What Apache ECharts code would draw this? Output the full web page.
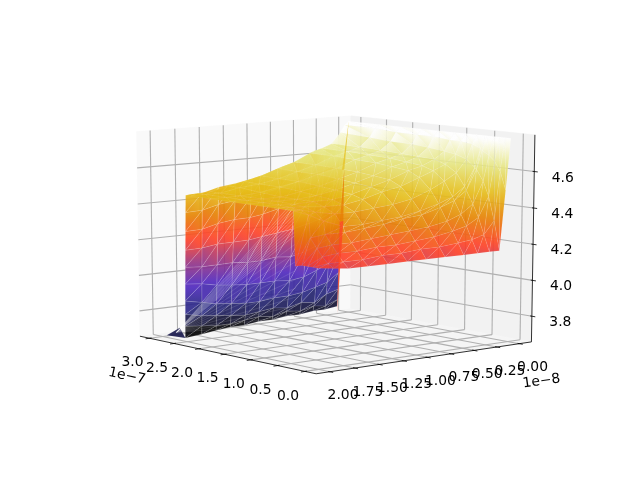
<!DOCTYPE html>
<html><head><meta charset="utf-8">
<script src="https://cdn.jsdelivr.net/npm/echarts@6/dist/echarts.min.js"></script>
<style>html,body{margin:0;background:#fff}#c{width:640px;height:480px}</style></head>
<body><div id="c"></div>
<script>
// ---- axis values
const xTicks=[0,0.5,1,1.5,2,2.5,3];
const xTickLabels=['0.0','0.5','1.0','1.5','2.0','2.5','3.0'];
const yTicks=[0,0.25,0.5,0.75,1,1.25,1.5,1.75,2];
const yTickLabels=['0.00','0.25','0.50','0.75','1.00','1.25','1.50','1.75','2.00'];
const zTicks=[3.8,4,4.2,4.4,4.6];
const zTickLabels=['3.8','4.0','4.2','4.4','4.6'];
const xOffsetText='1e\u22127', yOffsetText='1e\u22128';
const xLim=[-0.2,3.2], yLim=[-0.136,2.136], zLim=[3.656,4.8];
// ---- upper sheet: z over x (1e-7) and y (1e-8); last column is the ridge
const sheetX=[0,0.1,0.2,0.3,0.42,0.45,0.6,0.8,1,1.3,1.6,2,2.4];
const sheetY=[2,1.85,1.7,1.5,1.3,1.1,0.9,0.7,0.5,0.35,0.22,0.11,0.05,0];
const sheetRidgeX=[2.5,2.56,2.59,2.64,2.69,2.74,2.78,2.83,2.88,2.92,2.95,2.97,2.99,3];
const sheetZ=[
[4.19,4.19,4.19,4.19,4.18,4.47,4.47,4.47,4.47,4.47,4.47,4.47,4.47,4.47],
[4.18,4.20,4.23,4.27,4.32,4.44,4.46,4.465,4.47,4.47,4.47,4.47,4.47,4.47],
[4.17,4.20,4.24,4.28,4.33,4.40,4.44,4.46,4.465,4.47,4.47,4.47,4.47,4.47],
[4.17,4.20,4.24,4.28,4.33,4.36,4.42,4.45,4.47,4.47,4.47,4.48,4.49,4.49],
[4.17,4.21,4.25,4.29,4.34,4.36,4.42,4.45,4.47,4.48,4.49,4.50,4.50,4.505],
[4.17,4.21,4.25,4.30,4.35,4.37,4.43,4.47,4.49,4.50,4.51,4.52,4.52,4.525],
[4.17,4.22,4.26,4.31,4.37,4.38,4.44,4.50,4.52,4.53,4.54,4.55,4.55,4.555],
[4.17,4.22,4.27,4.32,4.38,4.40,4.46,4.52,4.55,4.56,4.57,4.575,4.58,4.58],
[4.17,4.23,4.29,4.34,4.41,4.43,4.50,4.56,4.59,4.60,4.61,4.615,4.62,4.62],
[4.17,4.24,4.31,4.37,4.44,4.46,4.54,4.59,4.61,4.62,4.63,4.635,4.64,4.64],
[4.17,4.26,4.35,4.42,4.49,4.51,4.58,4.62,4.64,4.645,4.65,4.655,4.66,4.66],
[4.17,4.33,4.46,4.54,4.60,4.61,4.65,4.67,4.68,4.69,4.70,4.70,4.71,4.72],
[4.50,4.60,4.65,4.68,4.70,4.71,4.73,4.74,4.74,4.75,4.75,4.75,4.76,4.76],
[4.78,4.78,4.78,4.78,4.78,4.78,4.78,4.78,4.78,4.78,4.78,4.78,4.78,4.78]];
// ---- steep face between the x=3 edge and the ridge
const faceBaseY=[1.77,1.6,1.45,1.3,1.15,1,0.85,0.7,0.55,0.4,0.27,0.13];
const faceRidgeY=[2,1.8,1.6,1.4,1.2,1.05,0.85,0.65,0.45,0.3,0.15,0.05];
const faceRidgeX=[2.5,2.56,2.62,2.665,2.72,2.75,2.8,2.84,2.89,2.925,2.96,2.99];
const faceLevels=[0,0.06,0.12,0.2,0.3,0.42,0.55,0.7,0.85,1];
const faceZ=[
[3.63,3.70,3.77,3.85,3.95,4.05,4.15,4.26,4.37,4.47],
[3.64,3.69,3.75,3.83,3.94,4.04,4.15,4.26,4.37,4.47],
[3.65,3.68,3.74,3.81,3.92,4.04,4.16,4.28,4.39,4.49],
[3.66,3.68,3.73,3.80,3.91,4.04,4.16,4.29,4.40,4.50],
[3.66,3.69,3.72,3.79,3.90,4.03,4.16,4.29,4.41,4.515],
[3.67,3.70,3.73,3.79,3.90,4.03,4.17,4.30,4.42,4.53],
[3.67,3.69,3.74,3.80,3.90,4.04,4.18,4.32,4.44,4.56],
[3.68,3.71,3.73,3.80,3.89,4.03,4.19,4.33,4.46,4.585],
[3.68,3.70,3.75,3.81,3.90,4.05,4.21,4.36,4.50,4.63],
[3.69,3.72,3.74,3.83,3.93,4.08,4.23,4.38,4.51,4.645],
[3.69,3.71,3.78,3.85,3.96,4.11,4.26,4.41,4.54,4.67],
[3.70,3.74,3.80,3.90,4.02,4.18,4.33,4.48,4.62,4.76]];
// ---- small dark tip and the narrow strip at the y=0 end
const tipTriangles=[
[[3,1.96,3.66],[3,1.77,3.63],[2.93,1.86,3.70]]];
const stripTriangles=[
[[3,0.13,3.66],[3,0.06,4.2],[3,0.10,4.2]],
[[3,0.10,4.2],[3,0.06,4.2],[3,0.05,4.5]],
[[3,0.05,4.5],[3,0.075,4.5],[3,0,4.78]]];
const stripColorZ=[4.22,4.34,4.5];
// ---- fine mesh lines fanning out of the far corner
const fanStart=[3,1.86,3.67];
const fanEndXY=[2.05,1.11];
const fanEndZDense=[4.22,4.24,4.26,4.28,4.30,4.32,4.34,4.36,4.38,4.40,4.42];
const fanEndZSparse=[3.72,3.77,3.82,3.87,3.92,3.97,4.02,4.07,4.12,4.17];
// ---- colour scale limits
const colorMin=3.66, colorMax=4.76;
const cmapStops=[[0,0,0],[38,38,128],[77,38,191],[153,51,128],[255,64,38],[230,128,0],[230,191,26],[230,230,128],[255,255,255]];

// ---- view
const elev=10*Math.PI/180, azim=140*Math.PI/180, dist=10;
const nx=Math.cos(elev)*Math.cos(azim), ny=Math.cos(elev)*Math.sin(azim), nz=Math.sin(elev);
const ul=Math.hypot(nx,ny), ux=-ny/ul, uy=nx/ul;
const vx=-nz*uy, vy=nz*ux, vz=nx*uy-ny*ux;
const sx0=334.5, sy0=237, kx=2803, ky=2090;
function proj(x,y,z){
  const a=(x-xLim[0])/(xLim[1]-xLim[0])-0.5, b=(y-yLim[0])/(yLim[1]-yLim[0])-0.5, c=(z-zLim[0])/(zLim[1]-zLim[0])-0.5;
  const X=ux*a+uy*b, Y=vx*a+vy*b+vz*c, D=nx*a+ny*b+nz*c, w=dist-D;
  return [sx0+kx*X/w, sy0-ky*Y/w, D];
}
function cmap(z){
  const t=Math.max(0,Math.min(1,(z-colorMin)/(colorMax-colorMin)))*8, i=Math.min(7,Math.floor(t)), f=t-i;
  const a=cmapStops[i], b=cmapStops[i+1];
  return [0,1,2].map(k=>Math.round(a[k]+(b[k]-a[k])*f));
}
const rgba=(c,o)=>`rgba(${c[0]},${c[1]},${c[2]},${o})`;
const surfaceAlpha=0.9;

// ---- build items
const back=[],surf=[],front=[];
const [x0,x1]=xLim,[y0,y1]=yLim,[z0,z1]=zLim;
back.push({k:'p',pts:[[x1,y0,z0],[x1,y1,z0],[x1,y1,z1],[x1,y0,z1]],fill:'#f9f9f9'});
back.push({k:'p',pts:[[x0,y0,z0],[x1,y0,z0],[x1,y0,z1],[x0,y0,z1]],fill:'#f2f2f2'});
back.push({k:'p',pts:[[x0,y0,z0],[x1,y0,z0],[x1,y1,z0],[x0,y1,z0]],fill:'#f5f5f5'});
const gridC='#b0b0b0', gridW=1.1;
xTicks.forEach(x=>{back.push({k:'l',a:[x,y1,z0],b:[x,y0,z0],c:gridC,w:gridW});back.push({k:'l',a:[x,y0,z0],b:[x,y0,z1],c:gridC,w:gridW});});
yTicks.forEach(y=>{back.push({k:'l',a:[x0,y,z0],b:[x1,y,z0],c:gridC,w:gridW});back.push({k:'l',a:[x1,y,z0],b:[x1,y,z1],c:gridC,w:gridW});});
zTicks.forEach(z=>{back.push({k:'l',a:[x1,y1,z],b:[x1,y0,z],c:gridC,w:gridW});back.push({k:'l',a:[x1,y0,z],b:[x0,y0,z],c:gridC,w:gridW});});

function tri(list,a,b,c,flat,edge,colorZ,alpha){list.push({k:'t',pts:[a,b,c],flat,edge,colorZ,alpha});}
// steep face
const faceTris=[];
for(let j=0;j<faceBaseY.length-1;j++)for(let k=0;k<faceLevels.length-1;k++){
  const v=(jj,kk)=>{const f=faceLevels[kk];return [3+(faceRidgeX[jj]-3)*f,faceBaseY[jj]+(faceRidgeY[jj]-faceBaseY[jj])*f,faceZ[jj][kk]];};
  const A=v(j,k),B=v(j+1,k),C=v(j+1,k+1),E=v(j,k+1);
  const low=faceZ[j][k+1]<3.95;
  tri(faceTris,A,B,C,low,0.2);tri(faceTris,A,C,E,low,0.2);
}
tipTriangles.forEach(t=>tri(faceTris,t[0],t[1],t[2],true,0.12,3.74));
// sheet
const sheetTris=[];
for(let j=0;j<sheetY.length-1;j++)for(let i=0;i<sheetX.length;i++){
  const v=(jj,ii)=>[ii<sheetX.length?sheetX[ii]:sheetRidgeX[jj],sheetY[jj],sheetZ[jj][ii]];
  const A=v(j,i),B=v(j,i+1),C=v(j+1,i+1),E=v(j+1,i);
  const e=sheetY[j]<0.6?0.15:0.1;
  tri(sheetTris,A,B,C,false,e);tri(sheetTris,A,C,E,false,e);
}
const depth=t=>(proj(...t.pts[0])[2]+proj(...t.pts[1])[2]+proj(...t.pts[2])[2])/3;
faceTris.sort((p,q)=>depth(p)-depth(q));
sheetTris.sort((p,q)=>depth(p)-depth(q));
surf.push(...faceTris);
fanEndZDense.forEach(z=>surf.push({k:'l',a:fanStart,b:[fanEndXY[0],fanEndXY[1],z],c:'rgba(255,255,255,0.3)',w:0.7}));
fanEndZSparse.forEach(z=>surf.push({k:'l',a:fanStart,b:[fanEndXY[0],fanEndXY[1],z],c:'rgba(255,255,255,0.2)',w:0.6}));
surf.push(...sheetTris);
stripTriangles.forEach((t,i)=>tri(surf,t[0],t[1],t[2],true,0,stripColorZ[i],0.8));

const ink='#000', tickW=0.8;
front.push({k:'l',a:[x0,y1,z0],b:[x1,y1,z0],c:ink,w:0.8});
front.push({k:'l',a:[x0,y1,z0],b:[x0,y0,z0],c:ink,w:0.8});
front.push({k:'l',a:[x0,y0,z0],b:[x0,y0,z1],c:ink,w:0.8});
xTicks.forEach((x,i)=>{
  front.push({k:'l',a:[x,y1-0.02,z0],b:[x,y1+0.04,z0],c:ink,w:tickW});
  front.push({k:'x',at:[x,y1,z0],dx:-17,dy:24.5,text:xTickLabels[i]});
});
yTicks.forEach((y,i)=>{
  front.push({k:'l',a:[x0+0.03,y,z0],b:[x0-0.06,y,z0],c:ink,w:tickW});
  front.push({k:'x',at:[x0,y,z0],dx:13.2,dy:24,text:yTickLabels[i]});
});
zTicks.forEach((z,i)=>{
  front.push({k:'l',a:[x0+0.03,y0,z],b:[x0-0.06,y0,z],c:ink,w:tickW});
  front.push({k:'x',at:[x0,y0,z],dx:28.5,dy:6.5,text:zTickLabels[i]});
});
front.push({k:'x',at:[x1,y1,z0],dx:-13,dy:40,text:xOffsetText,rot:-12});
front.push({k:'x',at:[x0,y0,z0],dx:10,dy:39.5,text:yOffsetText,rot:8});

function draw(it,api){
  const P=p=>{const q=proj(p[0],p[1],p[2]);return api.coord([q[0],q[1]]);};
  if(it.k==='p')return {type:'polygon',shape:{points:it.pts.map(P)},style:{fill:it.fill,stroke:it.fill,lineWidth:0.5}};
  if(it.k==='l'){const a=P(it.a),b=P(it.b);return {type:'line',shape:{x1:a[0],y1:a[1],x2:b[0],y2:b[1]},style:{stroke:it.c,lineWidth:it.w}};}
  if(it.k==='t'){
    const pts=it.pts.map(P), zs=it.pts.map(p=>p[2]);
    const order=[0,1,2].sort((a,b)=>zs[a]-zs[b]), lo=order[0], hi=order[2];
    const al=it.alpha||surfaceAlpha;
    let fill;
    if(it.flat||zs[hi]-zs[lo]<0.012) fill=rgba(cmap(it.colorZ!==undefined?it.colorZ:(zs[0]+zs[1]+zs[2])/3),al);
    else{
      const stops=[];for(let s=0;s<=6;s++){const zz=zs[lo]+(zs[hi]-zs[lo])*s/6;stops.push({offset:s/6,color:rgba(cmap(zz),al)});}
      fill=new echarts.graphic.LinearGradient(pts[lo][0],pts[lo][1],pts[hi][0],pts[hi][1],stops,true);
    }
    return {type:'polygon',shape:{points:pts},style:{fill,stroke:it.edge?`rgba(255,255,255,${it.edge})`:'none',lineWidth:0.6}};
  }
  if(it.k==='x'){
    const q=P(it.at);
    return {type:'text',x:q[0]+it.dx,y:q[1]+it.dy,rotation:(it.rot||0)*Math.PI/180,
      style:{text:it.text,fill:'#000',fontFamily:'DejaVu Sans',fontSize:13.89,align:'center',verticalAlign:'middle'}};
  }
}
const layer=(name,items,z)=>({name,type:'custom',coordinateSystem:'cartesian2d',xAxisIndex:0,yAxisIndex:0,z,clip:false,silent:true,animation:false,progressive:0,
  data:items.map((_,i)=>[i,0]),renderItem:(p,api)=>draw(items[p.dataIndex],api)});
const chart=echarts.init(document.getElementById('c'),null,{renderer:'canvas'});
chart.setOption({animation:false,backgroundColor:'#fff',
  grid:{left:0,right:0,top:0,bottom:0},
  xAxis:{type:'value',min:0,max:640,show:false},
  yAxis:{type:'value',min:0,max:480,inverse:true,show:false},
  series:[layer('walls',back,1),layer('surface',surf,2),layer('axes',front,3)]});
</script></body></html>
